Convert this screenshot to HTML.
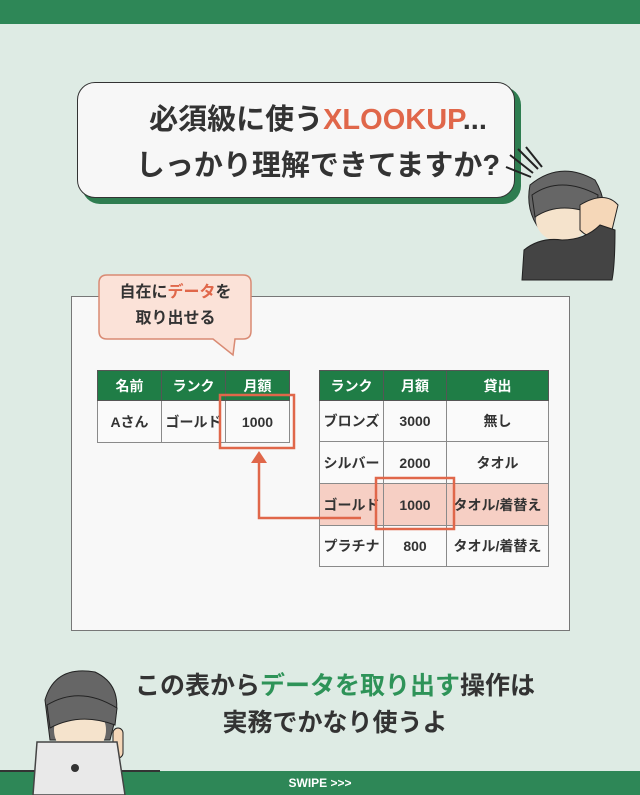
<!DOCTYPE html>
<html><head><meta charset="utf-8"><style>
*{margin:0;padding:0;box-sizing:border-box}
body{width:640px;height:795px;background:#deebe4;position:relative;overflow:hidden;font-family:"Liberation Sans","Noto Sans CJK JP",sans-serif;font-weight:bold;color:#333}
.a{position:absolute}
.t{border-collapse:collapse;position:absolute;table-layout:fixed}
.t td{border:1px solid #8a8a8a;text-align:center;font-size:14px;color:#333;background:#fafafa;padding:0;white-space:nowrap;overflow:hidden}
.t th{background:#1f7d46;color:#fff;font-size:14px;height:30px;border:1px solid #555;font-weight:bold;padding:0}
</style></head><body>
<div class="a" style="left:0;top:0;width:640px;height:24px;background:#2e8757"></div>
<div class="a" style="left:82px;top:87px;width:439px;height:117px;background:#2e7d50;border-radius:18px"></div>
<div class="a" style="left:77px;top:82px;width:438px;height:116px;background:#f7f7f7;border:1.5px solid #333;border-radius:18px"></div>
<div class="a" style="left:77px;top:97px;width:482px;text-align:center;font-size:29px;line-height:46px;color:#333">必須級に使う<span style="color:#e0674a">XLOOKUP</span>...<br>しっかり理解できてますか?</div>
<svg class="a" style="left:500px;top:145px" width="125" height="140">
<path d="M10 10 L33 28 M18 4 L38 24 M6 22 L31 32 M26 2 L42 22" stroke="#222" stroke-width="2"/>
<path d="M30 40 Q60 15 95 35 Q110 60 100 85 L40 85 Q25 65 30 40Z" fill="#666" stroke="#222"/>
<ellipse cx="62" cy="75" rx="26" ry="22" fill="#f5e3cc"/>
<path d="M32 50 Q60 30 98 50 L96 70 Q60 55 35 72Z" fill="#666" stroke="#222"/>
<path d="M80 60 Q105 45 118 60 L112 85 Q95 100 80 85Z" fill="#f5d7b8" stroke="#222"/>
<path d="M22 135 L24 105 Q40 92 62 95 Q85 95 100 80 L115 85 Q115 120 112 135Z" fill="#444" stroke="#222"/>
</svg>
<div class="a" style="left:71px;top:296px;width:499px;height:335px;background:#f8f8f8;border:1.5px solid #777"></div>
<svg class="a" style="left:95px;top:273px" width="160" height="85">
<path d="M12 2 H148 Q156 2 156 10 V58 Q156 66 148 66 H140 L138 82 L118 66 H12 Q4 66 4 58 V10 Q4 2 12 2Z" fill="#fbe2d8" stroke="#d98a73" stroke-width="1.5"/>
</svg>
<div class="a" style="left:99px;top:280px;width:153px;text-align:center;font-size:16px;line-height:26px">自在に<span style="color:#e0674a">データ</span>を<br>取り出せる</div>
<table class="t" style="left:97px;top:370px;width:192px">
<col style="width:64px"><col style="width:64px"><col style="width:64px">
<tr><th>名前</th><th>ランク</th><th>月額</th></tr>
<tr><td style="height:42px">Aさん</td><td>ゴールド</td><td>1000</td></tr>
</table>
<table class="t" style="left:319px;top:370px;width:229px">
<col style="width:64px"><col style="width:63px"><col style="width:102px">
<tr><th>ランク</th><th>月額</th><th>貸出</th></tr>
<tr><td style="height:41px">ブロンズ</td><td>3000</td><td>無し</td></tr>
<tr><td style="height:42px">シルバー</td><td>2000</td><td>タオル</td></tr>
<tr><td style="height:42px;background:#f6cfc4">ゴールド</td><td style="background:#f6cfc4">1000</td><td style="background:#f6cfc4">タオル/着替え</td></tr>
<tr><td style="height:41px">プラチナ</td><td>800</td><td>タオル/着替え</td></tr>
</table>
<svg class="a" style="left:0;top:0" width="640" height="795">
<rect x="220" y="395" width="74" height="53" fill="none" stroke="#e0674a" stroke-width="2.5"/>
<rect x="376" y="478" width="78" height="51" fill="none" stroke="#e0674a" stroke-width="2.5"/>
<path d="M361 518 H259 V462" fill="none" stroke="#e0674a" stroke-width="2.5"/>
<path d="M251 463 L259 451 L267 463Z" fill="#e0674a"/>
</svg>
<div class="a" style="left:120px;top:668px;width:430px;text-align:center;font-size:25px;line-height:37px;color:#333">この表から<span style="color:#2e9358">データを取り出す</span>操作は<br>実務でかなり使うよ</div>
<div class="a" style="left:0;top:771px;width:640px;height:24px;background:#2e8757;color:#fff;font-size:12px;text-align:center;line-height:24px">SWIPE &gt;&gt;&gt;</div>
<div class="a" style="left:0;top:770px;width:160px;height:2px;background:#333"></div>
<svg class="a" style="left:25px;top:660px" width="110" height="135">
<path d="M20 40 Q30 5 70 12 Q98 25 90 60 L85 80 L25 80Z" fill="#666" stroke="#222"/>
<ellipse cx="55" cy="70" rx="26" ry="26" fill="#f5e3cc"/>
<path d="M22 45 Q55 25 92 48 L90 65 Q55 52 25 68Z" fill="#666" stroke="#222"/>
<path d="M15 110 Q20 95 55 95 Q80 95 95 105 L100 135 H15Z" fill="#444"/>
<rect x="88" y="68" width="10" height="30" rx="5" fill="#f5d7b8" stroke="#222"/>
<path d="M12 82 H92 L100 135 H8Z" fill="#e9e9e9" stroke="#444" stroke-width="1.5"/>
<circle cx="50" cy="108" r="4" fill="#333"/>
</svg>
</body></html>
